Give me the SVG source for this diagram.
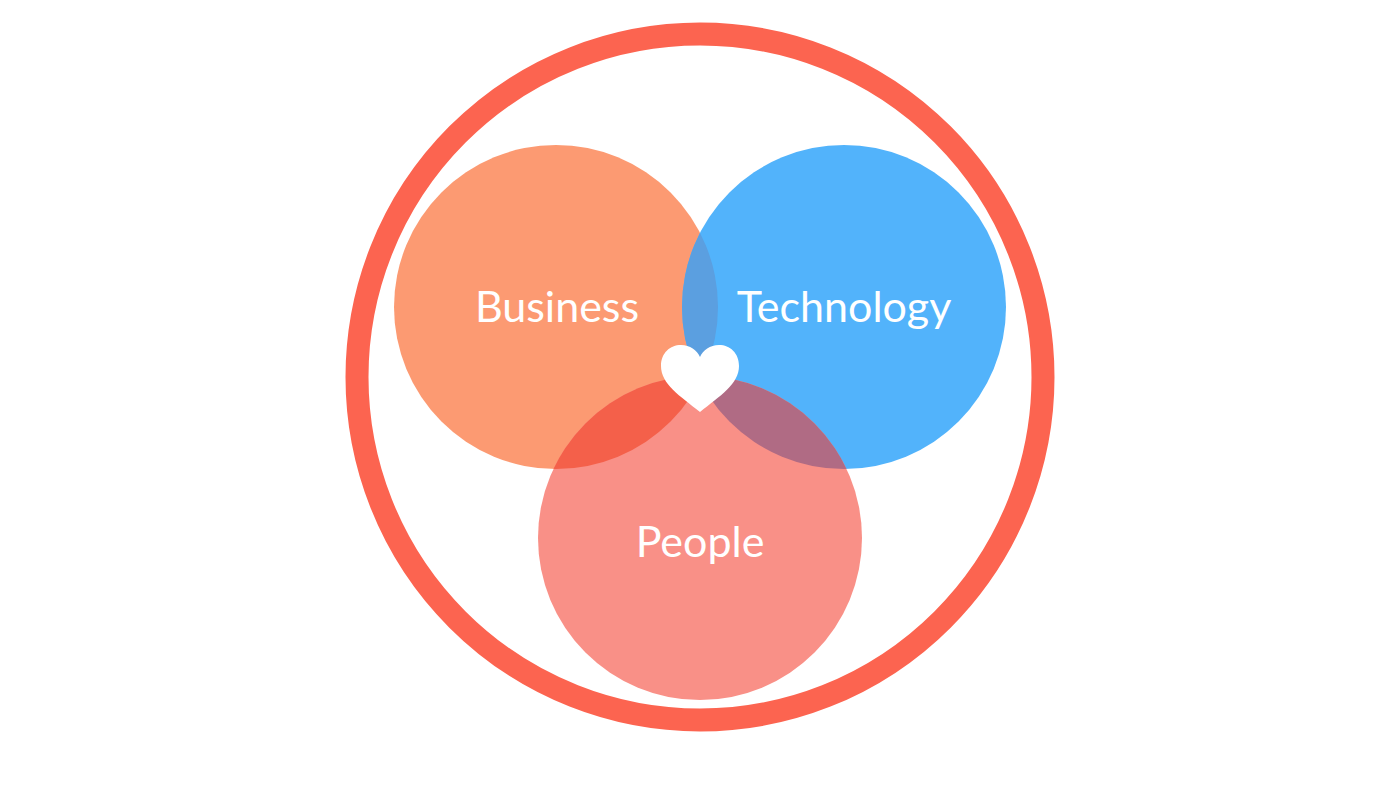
<svg xmlns="http://www.w3.org/2000/svg" width="1400" height="788" viewBox="0 0 1400 788">
<style>
.lbl{font-family:Lato,"Open Sans",sans-serif;font-size:43px;fill:#fff;text-anchor:middle}
</style>
<defs>
<clipPath id="cB"><circle cx="556" cy="307" r="162"/></clipPath>
<clipPath id="cT"><circle cx="844" cy="307" r="162"/></clipPath>
</defs>
<rect width="1400" height="788" fill="#fff"/>
<g id="outer"><circle cx="700" cy="377" r="343" fill="none" stroke="#FC6450" stroke-width="23"/></g>
<g id="business"><circle cx="556" cy="307" r="162" fill="#FC9A72"/></g>
<g id="technology"><circle cx="844" cy="307" r="162" fill="#52B3FB"/></g>
<g id="people"><circle cx="700" cy="538" r="162" fill="#F99087"/></g>
<g id="overlaps">
<circle cx="844" cy="307" r="162" fill="#5B9FE0" clip-path="url(#cB)"/>
<circle cx="700" cy="538" r="162" fill="#F4604A" clip-path="url(#cB)"/>
<circle cx="700" cy="538" r="162" fill="#B06B84" clip-path="url(#cT)"/>
</g>
<g id="labels">
<text class="lbl" x="557" y="322">Business</text>
<text class="lbl" x="844" y="322">Technology</text>
<text class="lbl" x="700" y="557">People</text>
</g>
<g id="heart"><path d="M700,412 C680,396 661,384 661,366 C661,353 670,345 681,345 C690,345 697,350 700,357 C703,350 710,345 719,345 C730,345 739,353 739,366 C739,384 720,396 700,412 Z" fill="#fff"/></g>
</svg>
